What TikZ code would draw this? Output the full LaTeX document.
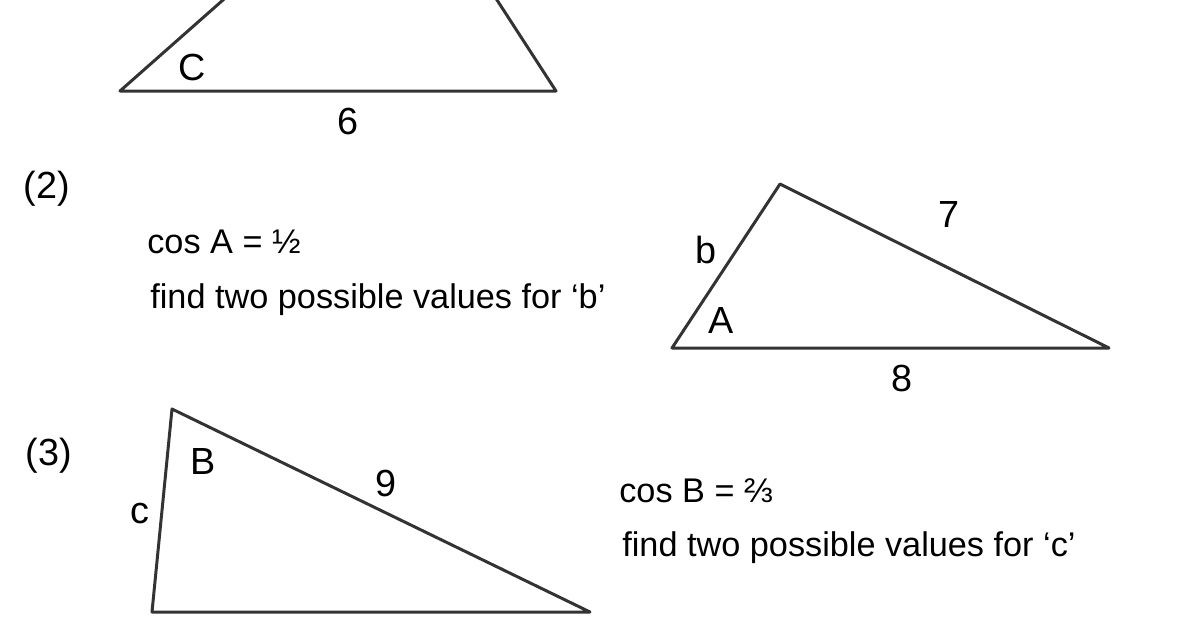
\documentclass[tikz,border=0pt]{standalone}
\usepackage{fontspec}
\setmainfont{Liberation Sans}
\usetikzlibrary{calc}

\begin{document}
\begin{tikzpicture}[
  x=0.02cm, y=-0.02cm,
  side/.style={draw=black!80, line width=1.7pt, line join=round},
  lbl/.style={inner sep=0pt, font=\fontsize{21.5}{24}\selectfont},
  txt/.style={inner sep=0pt, anchor=west, font=\fontsize{19.5}{23}\selectfont}
  ]
\clip (0,0) rectangle (1200,630);
\fill[white] (0,0) rectangle (1200,630);
% (1)
\coordinate (C1) at (120,91);
\coordinate (R1) at (556,91);
\coordinate (T1) at ($(C1)!1.3!(223,0)$);
\coordinate (T2) at ($(R1)!1.3!(497,0)$);
\draw[side] (T1) -- (C1) -- (R1) -- (T2);
\node[lbl] (labC) at (192,67) {C};
\node[lbl] (lab6) at (348,121) {6};
% (2)
\node[lbl] (num2) at (47,189) {(2)};
\node[txt] (cosA) at (147,242) {cos A = ½};
\node[txt] (findb) at (150,300) {find two possible values for ‘b’};
\coordinate (A) at (672,348);
\coordinate (T) at (780,184);
\coordinate (R2) at (1109,348);
\draw[side] (A) -- (T) -- (R2) -- cycle;
\node[lbl] (labb) at (706,250) {b};
\node[lbl] (lab7) at (949,214) {7};
\node[lbl] (labA) at (721,320) {A};
\node[lbl] (lab8) at (902,378) {8};
% (3)
\node[lbl] (num3) at (49,456) {(3)};
\coordinate (B) at (172,409);
\coordinate (L3) at (152,612);
\coordinate (R3) at (590,612);
\draw[side] (B) -- (R3) -- (L3) -- cycle;
\node[lbl] (labB) at (203,461) {B};
\node[lbl] (lab9) at (386,483) {9};
\node[lbl] (labc) at (140,514) {c};
\node[txt] (cosB) at (619,491) {cos B = ⅔};
\node[txt] (findc) at (622,548) {find two possible values for ‘c’};
\end{tikzpicture}
\end{document}
